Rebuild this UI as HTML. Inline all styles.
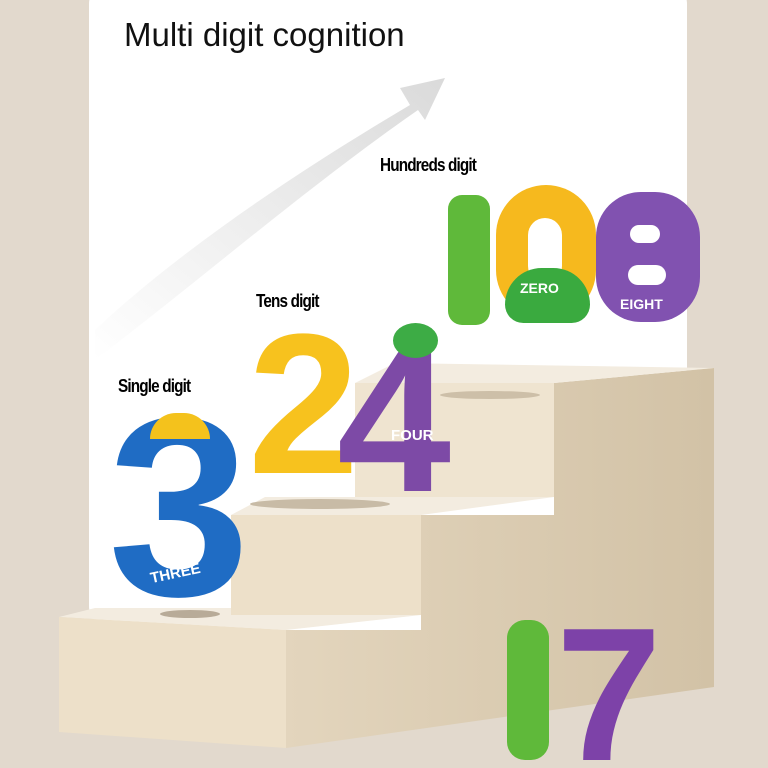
<!DOCTYPE html>
<html><head><meta charset="utf-8"><style>
html,body{margin:0;width:768px;height:768px;overflow:hidden;background:#e2d9cd;font-family:"Liberation Sans",sans-serif}
body{position:relative}
svg{position:absolute;left:0;top:0}
</style></head><body>
<svg width="768" height="768" viewBox="0 0 768 768">
<defs>
<linearGradient id="ar" x1="0" y1="1" x2="1" y2="0"><stop offset="0" stop-color="#fff"/><stop offset="1" stop-color="#d6d6d6"/></linearGradient>
<linearGradient id="sd" x1="0" y1="0" x2="1" y2="0"><stop offset="0" stop-color="#e3d5bd"/><stop offset="1" stop-color="#d2c2a6"/></linearGradient>
</defs>
<rect x="0" y="0" width="768" height="768" fill="#e2d9cd"/>
<rect x="89" y="-20" width="598" height="650" rx="24" fill="#ffffff"/>
<path d="M95 330 C180 250 300 170 410 105 L400 88 L445 78 L425 120 L418 110 C310 185 200 280 95 360 Z" fill="url(#ar)" opacity="0.9"/>
<polygon points="286,748 286,630 421,630 421,515 554,515 554,383 714,368 714,687" fill="url(#sd)"/>
<polygon points="355,383 395,363 714,368 554,383" fill="#f3ece0"/>
<polygon points="355,383 554,383 554,497 355,497" fill="#efe4d0"/>
<polygon points="231,515 265,497 554,497 421,515" fill="#f3ece0"/>
<polygon points="231,515 421,515 421,615 231,615" fill="#ede0c9"/>
<polygon points="59,617 95,608 231,608 231,615 421,615 286,630" fill="#f3ece0"/>
<polygon points="59,617 286,630 286,748 59,732" fill="#ede0c9"/>
<ellipse cx="190" cy="614" rx="30" ry="4" fill="#b8ab98"/>
<ellipse cx="320" cy="504" rx="70" ry="5" fill="#c8bba6"/>
<ellipse cx="490" cy="395" rx="50" ry="4" fill="#cdbfa8"/>
</svg>
<div style="position:absolute;left:124px;top:16px;font-size:33px;color:#111">Multi digit cognition</div>
<div style="position:absolute;left:380px;top:155px;font-size:18px;font-weight:bold;letter-spacing:-1px;transform:scaleX(.85);transform-origin:left">Hundreds digit</div>
<div style="position:absolute;left:256px;top:291px;font-size:18px;font-weight:bold;letter-spacing:-1px;transform:scaleX(.85);transform-origin:left">Tens digit</div>
<div style="position:absolute;left:118px;top:376px;font-size:18px;font-weight:bold;letter-spacing:-1px;transform:scaleX(.85);transform-origin:left">Single digit</div>
<div style="position:absolute;left:108px;top:380px;font-size:255px;font-weight:bold;color:#1f6cc4;line-height:1">3</div>
<div style="position:absolute;left:150px;top:413px;width:60px;height:26px;background:#f4c21c;border-radius:30px 30px 0 0"></div>
<div style="position:absolute;left:248px;top:305px;font-size:200px;font-weight:bold;color:#f7c21e;line-height:1">2</div>
<div style="position:absolute;left:337px;top:318px;font-size:205px;font-weight:bold;color:#7d4aa6;line-height:1">4</div>
<div style="position:absolute;left:393px;top:323px;width:45px;height:35px;background:#3dac45;border-radius:50%"></div>
<div style="position:absolute;left:448px;top:195px;width:42px;height:130px;background:#5fb93a;border-radius:14px"></div>
<div style="position:absolute;left:496px;top:185px;width:100px;height:135px;background:#f6b91e;border-radius:50px"></div>
<div style="position:absolute;left:528px;top:218px;width:34px;height:65px;background:#fff;border-radius:17px"></div>
<div style="position:absolute;left:505px;top:268px;width:85px;height:55px;background:#3aaa3f;border-radius:40px 40px 20px 20px"></div>
<div style="position:absolute;left:596px;top:192px;width:104px;height:130px;background:#8152b0;border-radius:45px"></div>
<div style="position:absolute;left:630px;top:225px;width:30px;height:18px;background:#fff;border-radius:9px"></div>
<div style="position:absolute;left:628px;top:265px;width:38px;height:20px;background:#fff;border-radius:10px"></div>
<div style="position:absolute;left:520px;top:280px;color:#fff;font-size:14px;font-weight:bold">ZERO</div>
<div style="position:absolute;left:620px;top:296px;color:#fff;font-size:14px;font-weight:bold">EIGHT</div>
<div style="position:absolute;left:391px;top:427px;color:#fff;font-size:15px;font-weight:bold">FOUR</div>
<div style="position:absolute;left:150px;top:565px;color:#fff;font-size:15px;font-weight:bold;transform:rotate(-12deg)">THREE</div>
<div style="position:absolute;left:507px;top:620px;width:42px;height:140px;background:#5fb93a;border-radius:18px"></div>
<div style="position:absolute;left:556px;top:600px;font-size:190px;font-weight:bold;color:#7d42a8;line-height:1">7</div>
</body></html>
